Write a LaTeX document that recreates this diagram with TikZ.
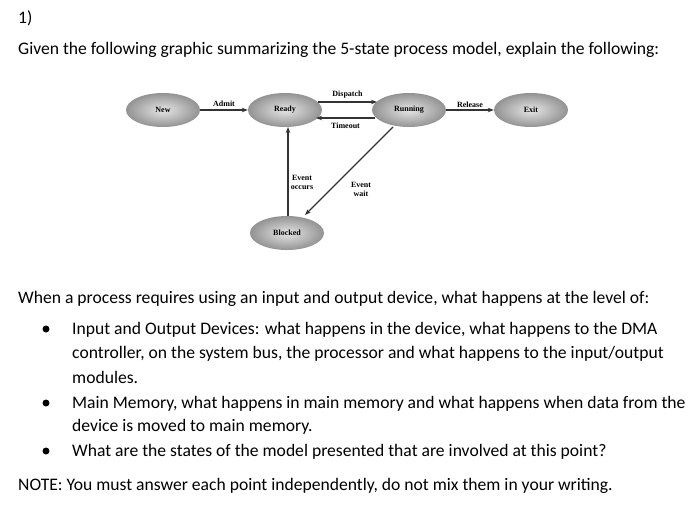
\documentclass[tikz,border=0pt]{standalone}
\usepackage{fontspec}
\setmainfont{Carlito}
\newfontfamily\dfont{Liberation Serif}
\usetikzlibrary{shapes.geometric,arrows.meta}
\begin{document}
\begin{tikzpicture}[x=1pt,y=-1pt,
  st/.style={ellipse,minimum width=74pt,minimum height=34pt,inner color=gray!20,outer color=gray!85,font=\dfont\fontsize{8}{9}\bfseries\selectfont},
  lab/.style={font=\dfont\fontsize{8}{9}\bfseries\selectfont,align=center,inner sep=0pt},
  ar/.style={-{Stealth[length=6pt,width=4.5pt]},line width=1.3pt,draw=black!80},
  tx/.style={anchor=base west,inner sep=0pt,font=\fontsize{17.6}{22}\selectfont},
  bl/.style={circle,fill=black,inner sep=0pt,minimum size=7pt}]
\useasboundingbox (0,0) rectangle (690,504);
\node[tx] (t1) at (18,23) {1)};
\node[tx] (t2) at (18,54) {Given the following graphic summarizing the 5-state process model, explain the following:};
\node[st] (new) at (163,110) {New};
\node[st] (ready) at (285,110) {Ready};
\node[st] (run) at (409,110) {Running};
\node[st] (exit) at (531,110) {Exit};
\node[st] (blk) at (287,233) {Blocked};
\draw[ar] (new) -- node[lab,above=3pt]{Admit} (ready);
\coordinate (d1) at (318,102);
\coordinate (d2) at (377,102);
\draw[ar] (d1) -- node[lab,above=3pt]{Dispatch} (d2);
\coordinate (t1a) at (375,118);
\coordinate (t2a) at (316,118);
\draw[ar] (t1a) -- node[lab,below=4pt]{Timeout} (t2a);
\draw[ar] (run) -- node[lab,above=2pt]{Release} (exit);
\coordinate (b1) at (288,216);
\coordinate (b2) at (288,127);
\draw[ar] (b1) -- (b2);
\node[lab] (eo) at (302,182) {Event\\occurs};
\coordinate (r1) at (393,127);
\coordinate (r2) at (305,215);
\draw[ar] (r1) -- (r2);
\node[lab] (ew) at (361,189) {Event\\wait};
\node[tx] (t3) at (18,303) {When a process requires using an input and output device, what happens at the level of:};
\node[bl] (b1d) at (46,329) {};
\node[tx] (t4) at (72,334) {Input and Output Devices: what happens in the device, what happens to the DMA};
\node[tx] (t5) at (72,358) {controller, on the system bus, the processor and what happens to the input/output};
\node[tx] (t6) at (72,383) {modules.};
\node[bl] (b2d) at (46,403) {};
\node[tx] (t7) at (72,408) {Main Memory, what happens in main memory and what happens when data from the};
\node[tx] (t8) at (72,431) {device is moved to main memory.};
\node[bl] (b3d) at (46,451) {};
\node[tx] (t9) at (72,456) {What are the states of the model presented that are involved at this point?};
\node[tx] (t10) at (18,490) {NOTE: You must answer each point independently, do not mix them in your writing.};
\end{tikzpicture}
\end{document}
